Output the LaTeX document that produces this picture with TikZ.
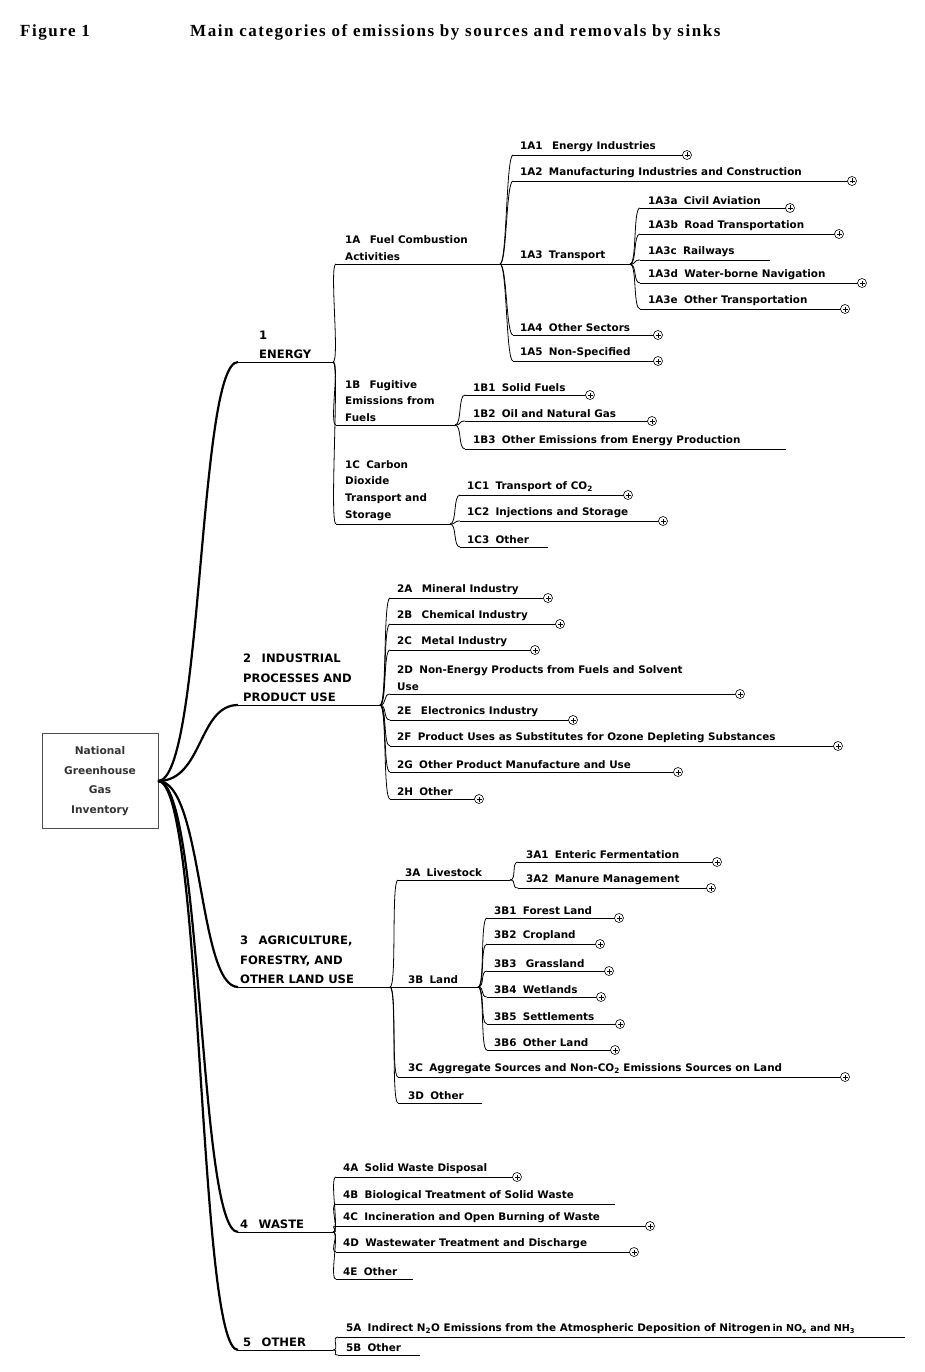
\documentclass[tikz,border=0pt]{standalone}
\usepackage{fontspec}
\setmainfont{DejaVu Sans}
\newfontfamily\titlefont[LetterSpace=9]{Liberation Serif}
\usetikzlibrary{calc}
\tikzset{
  lbl/.style={anchor=south west,inner sep=0pt,align=left,font=\bfseries\fontsize{10.4}{16.8}\selectfont},
  big/.style={lbl,font=\bfseries\fontsize{11.6}{19.5}\selectfont},
  ul/.style={line width=0.8pt},
  cn/.style={line width=0.8pt},
  top/.style={line width=2.2pt},
  pl/.style={circle,draw,fill=white,line width=0.6pt,inner sep=0pt,minimum size=9pt,
    path picture={\draw[line width=0.5pt] ([xshift=-2.5pt]path picture bounding box.center)--([xshift=2.5pt]path picture bounding box.center)
      ([yshift=-2.5pt]path picture bounding box.center)--([yshift=2.5pt]path picture bounding box.center);}},
}
% item: name, line start x, line y, line end x, text x, text
\newcommand\itm[6]{%
  \coordinate (#1-s) at (#2,#3); \coordinate (#1-e) at (#4,#3);
  \draw[ul] (#1-s) -- (#1-e);
  \node[lbl] (#1) at (#5,#3-3) {#6};}
\newcommand\pls[1]{\node[pl] at (#1-e) {};}
\newcommand\br[2]{\draw[cn] (#1-e) .. controls +(7,0) and +(-7,0) .. (#2-s);}
\newcommand\tbr[2]{\draw[top] (#1) .. controls +(45,0) and +(-40,0) .. (#2-s);}
\newcommand\gap{\hspace{0.9em}}
\newcommand\sg{\hspace{0.6em}}
\begin{document}
\begin{tikzpicture}[x=1pt,y=-1pt]
\useasboundingbox (0,0) rectangle (924,1372);
\node[anchor=base west,inner sep=0pt,font=\titlefont\bfseries\fontsize{17}{20}\selectfont] (fig) at (20,37) {Figure 1};
\node[anchor=base west,inner sep=0pt,font=\titlefont\bfseries\fontsize{17}{20}\selectfont] (ttl) at (190,37) {Main categories of emissions by sources and removals by sinks};

% root
\node[draw=black!70,line width=0.7pt,minimum width=116pt,minimum height=95pt,align=center,
  font=\bfseries\fontsize{10.6}{19.5}\selectfont,text=black!80] (root) at (100,781) {National\\Greenhouse\\Gas\\Inventory};
\coordinate (r) at (158,781);

% level 1
\draw[line width=1pt] (238,362) coordinate (e1-s) -- (333,362) coordinate (e1-e);
\node[big] (e1) at (259,359) {1\\ENERGY};
\draw[line width=1pt] (238,705) coordinate (e2-s) -- (380,705) coordinate (e2-e);
\node[big] (e2) at (243,702) {2\gap INDUSTRIAL\\PROCESSES AND\\PRODUCT USE};
\draw[line width=1pt] (238,987) coordinate (e3-s) -- (390,987) coordinate (e3-e);
\node[big] (e3) at (240,984) {3\gap AGRICULTURE,\\FORESTRY, AND\\OTHER LAND USE};
\draw[line width=1pt] (238,1232) coordinate (e4-s) -- (333,1232) coordinate (e4-e);
\node[big] (e4) at (240,1229) {4\gap WASTE};
\draw[line width=1pt] (238,1350) coordinate (e5-s) -- (333,1350) coordinate (e5-e);
\node[big] (e5) at (243,1347) {5\gap OTHER};
\foreach \k in {1,...,5} {\tbr{r}{e\k}}

% energy
\itm{a}{336}{264}{500}{345}{1A\gap Fuel Combustion\\Activities}
\itm{b}{336}{425}{455}{345}{1B\gap Fugitive\\Emissions from\\Fuels}
\itm{c}{336}{524}{450}{345}{1C\sg Carbon\\Dioxide\\Transport and\\Storage}
\foreach \n in {a,b,c} {\br{e1}{\n}}

\itm{a1}{513}{155}{687}{520}{1A1\gap Energy Industries}\pls{a1}
\itm{a2}{513}{181}{852}{520}{1A2\sg Manufacturing Industries and Construction}\pls{a2}
\itm{a3}{513}{264}{630}{520}{1A3\sg Transport}
\itm{a4}{513}{335}{658}{520}{1A4\sg Other Sectors}\pls{a4}
\itm{a5}{513}{361}{658}{520}{1A5\sg Non-Specified}\pls{a5}
\foreach \n in {a1,a2,a3,a4,a5} {\br{a}{\n}}

\itm{t1}{640}{208}{790}{648}{1A3a\sg Civil Aviation}\pls{t1}
\itm{t2}{640}{234}{839}{648}{1A3b\sg Road Transportation}\pls{t2}
\itm{t3}{640}{260}{770}{648}{1A3c\sg Railways}
\itm{t4}{640}{283}{862}{648}{1A3d\sg Water-borne Navigation}\pls{t4}
\itm{t5}{640}{309}{845}{648}{1A3e\sg Other Transportation}\pls{t5}
\foreach \n in {t1,t2,t3,t4,t5} {\br{a3}{\n}}

\itm{b1}{465}{395}{590}{473}{1B1\sg Solid Fuels}\pls{b1}
\itm{b2}{465}{421}{652}{473}{1B2\sg Oil and Natural Gas}\pls{b2}
\itm{b3}{465}{449}{786}{473}{1B3\sg Other Emissions from Energy Production}
\foreach \n in {b1,b2,b3} {\br{b}{\n}}

\itm{c1}{460}{495}{628}{467}{1C1\sg Transport of CO\textsubscript{2}}\pls{c1}
\itm{c2}{460}{521}{663}{467}{1C2\sg Injections and Storage}\pls{c2}
\itm{c3}{460}{547}{548}{467}{1C3\sg Other}
\foreach \n in {c1,c2,c3} {\br{c}{\n}}

% IPPU
\itm{p1}{390}{598}{548}{397}{2A\gap Mineral Industry}\pls{p1}
\itm{p2}{390}{624}{560}{397}{2B\gap Chemical Industry}\pls{p2}
\itm{p3}{390}{650}{535}{397}{2C\gap Metal Industry}\pls{p3}
\itm{p4}{390}{694}{740}{397}{2D\sg Non-Energy Products from Fuels and Solvent\\Use}\pls{p4}
\itm{p5}{390}{720}{573}{397}{2E\gap Electronics Industry}\pls{p5}
\itm{p6}{390}{746}{838}{397}{2F\sg Product Uses as Substitutes for Ozone Depleting Substances}\pls{p6}
\itm{p7}{390}{772}{678}{397}{2G\sg Other Product Manufacture and Use}\pls{p7}
\itm{p8}{390}{799}{479}{397}{2H\sg Other}\pls{p8}
\foreach \n in {p1,p2,p3,p4,p5,p6,p7,p8} {\br{e2}{\n}}

% AFOLU
\itm{g1}{398}{880}{510}{405}{3A\sg Livestock}
\itm{g2}{398}{987}{478}{408}{3B\sg Land}
\itm{g3}{398}{1077}{845}{408}{3C\sg Aggregate Sources and Non-CO\textsubscript{2} Emissions Sources on Land}\pls{g3}
\itm{g4}{398}{1103}{482}{408}{3D\sg Other}
\foreach \n in {g1,g2,g3,g4} {\br{e3}{\n}}

\itm{l1}{518}{862}{717}{526}{3A1\sg Enteric Fermentation}\pls{l1}
\itm{l2}{518}{888}{711}{526}{3A2\sg Manure Management}\pls{l2}
\foreach \n in {l1,l2} {\br{g1}{\n}}

\itm{d1}{487}{918}{619}{494}{3B1\sg Forest Land}\pls{d1}
\itm{d2}{487}{944}{600}{494}{3B2\sg Cropland}\pls{d2}
\itm{d3}{487}{971}{609}{494}{3B3\gap Grassland}\pls{d3}
\itm{d4}{487}{997}{601}{494}{3B4\sg Wetlands}\pls{d4}
\itm{d5}{487}{1024}{620}{494}{3B5\sg Settlements}\pls{d5}
\itm{d6}{487}{1050}{615}{494}{3B6\sg Other Land}\pls{d6}
\foreach \n in {d1,d2,d3,d4,d5,d6} {\br{g2}{\n}}

% waste
\itm{w1}{336}{1177}{517}{343}{4A\sg Solid Waste Disposal}\pls{w1}
\itm{w2}{336}{1204}{615}{343}{4B\sg Biological Treatment of Solid Waste}
\itm{w3}{336}{1226}{650}{343}{4C\sg Incineration and Open Burning of Waste}\pls{w3}
\itm{w4}{336}{1252}{634}{343}{4D\sg Wastewater Treatment and Discharge}\pls{w4}
\itm{w5}{336}{1279}{413}{343}{4E\sg Other}
\foreach \n in {w1,w2,w3,w4,w5} {\br{e4}{\n}}

% other
\itm{o1}{338}{1337}{905}{346}{5A\sg Indirect N\textsubscript{2}O Emissions from the Atmospheric Deposition of Nitrogen\,{\fontsize{9.6}{10}\selectfont in NO\textsubscript{x} and NH\textsubscript{3}}}
\itm{o2}{338}{1355}{420}{346}{5B\sg Other}
\foreach \n in {o1,o2} {\br{e5}{\n}}
\end{tikzpicture}
\end{document}
